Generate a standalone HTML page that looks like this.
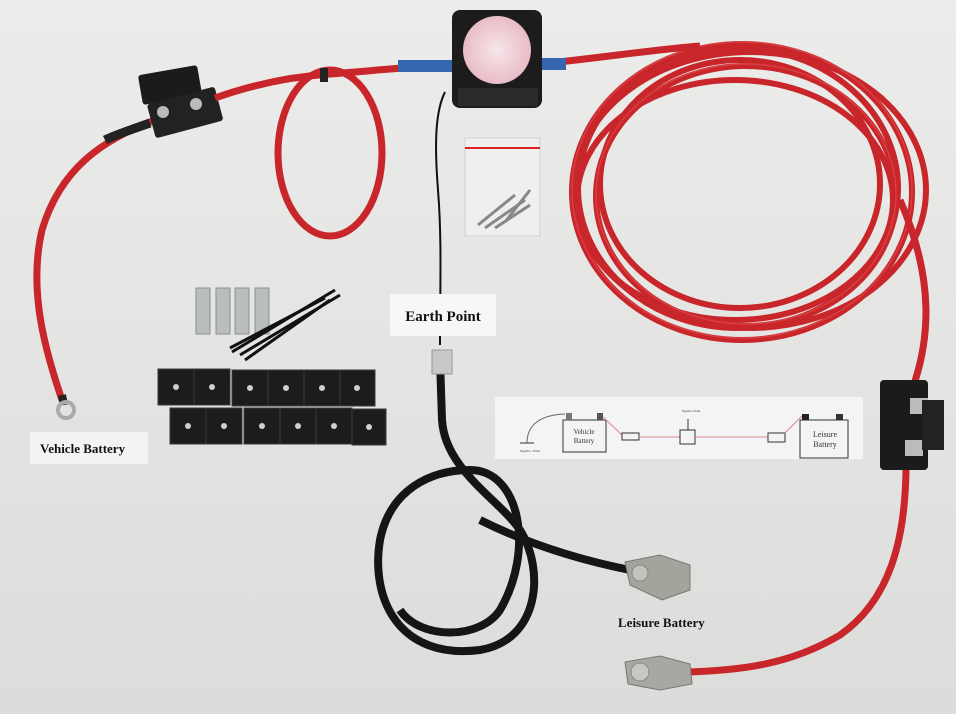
<!DOCTYPE html>
<html><head><meta charset="utf-8"><style>
html,body{margin:0;padding:0;width:956px;height:714px;overflow:hidden;background:#e6e6e4}
svg{display:block}
text{font-family:"Liberation Serif",serif}
</style></head><body>
<svg width="956" height="714" viewBox="0 0 956 714" xmlns="http://www.w3.org/2000/svg">
<defs>
<linearGradient id="bg" x1="0" y1="0" x2="0" y2="1">
<stop offset="0" stop-color="#ececea"/><stop offset="1" stop-color="#dcdcda"/>
</linearGradient>
<radialGradient id="pink" cx="0.5" cy="0.5" r="0.5">
<stop offset="0" stop-color="#f6e6ea"/><stop offset="1" stop-color="#e9bcc6"/>
</radialGradient>
</defs>
<rect width="956" height="714" fill="url(#bg)"/>

<g fill="none" stroke="#c8262a" stroke-width="6">
<ellipse cx="742" cy="192" rx="170" ry="148"/>
<ellipse cx="738" cy="188" rx="160" ry="140"/>
<ellipse cx="746" cy="196" rx="150" ry="130"/>
<ellipse cx="740" cy="184" rx="140" ry="124"/>
<ellipse cx="750" cy="190" rx="176" ry="138"/>
<ellipse cx="735" cy="200" rx="158" ry="120"/>
</g>
<g fill="none" stroke="#e0494c" stroke-width="1.5" opacity="0.7">
<ellipse cx="742" cy="190" rx="170" ry="148"/>
<ellipse cx="746" cy="194" rx="150" ry="130"/>
</g>

<path d="M540 64 C600 58 650 50 700 46" fill="none" stroke="#c8262a" stroke-width="7"/>
<rect x="540" y="58" width="26" height="12" fill="#3566b0"/>

<path d="M900 200 C935 280 930 340 912 390" fill="none" stroke="#c8262a" stroke-width="7"/>
<path d="M906 470 C905 540 890 600 840 635 C790 665 740 670 690 672" fill="none" stroke="#c8262a" stroke-width="7"/>
<rect x="880" y="380" width="48" height="90" rx="4" fill="#1b1b1b"/>
<rect x="910" y="398" width="18" height="16" fill="#bbb"/>
<rect x="905" y="440" width="18" height="16" fill="#bbb"/>
<rect x="922" y="400" width="22" height="50" fill="#222"/>

<path d="M625 662 L660 656 L690 664 L692 684 L660 690 L628 684 Z" fill="#a8a8a2" stroke="#777" stroke-width="1"/>
<circle cx="640" cy="672" r="9" fill="#c8c8c2" stroke="#888"/>

<path d="M160 118 C100 140 60 170 42 230 C28 290 45 350 62 400" fill="none" stroke="#c8262a" stroke-width="7"/>
<path d="M150 123 C130 130 115 135 105 140" fill="none" stroke="#222" stroke-width="9"/>
<path d="M62 395 L64 405" stroke="#222" stroke-width="8"/>
<circle cx="66" cy="410" r="8" fill="none" stroke="#aaa" stroke-width="4"/>
<g>
<rect x="140" y="70" width="60" height="30" rx="3" fill="#1b1b1b" transform="rotate(-10 170 85)"/>
<rect x="150" y="95" width="70" height="35" rx="3" fill="#222" transform="rotate(-15 185 112)"/>
<circle cx="163" cy="112" r="6" fill="#bbb"/>
<circle cx="196" cy="104" r="6" fill="#bbb"/>
</g>
<path d="M215 98 C260 82 300 76 330 74 C380 70 420 66 460 64" fill="none" stroke="#c8262a" stroke-width="7"/>
<ellipse cx="330" cy="153" rx="52" ry="83" fill="none" stroke="#c8262a" stroke-width="7"/>
<rect x="398" y="60" width="55" height="12" fill="#3566b0"/>
<rect x="320" y="68" width="8" height="14" fill="#222"/>

<rect x="452" y="10" width="90" height="98" rx="8" fill="#1c1c1c"/>
<circle cx="497" cy="50" r="34" fill="url(#pink)"/>
<rect x="458" y="88" width="80" height="18" fill="#2b2b2b"/>

<path d="M445 92 C436 110 434 140 438 190 C442 240 440 290 440 345" fill="none" stroke="#111" stroke-width="2"/>

<rect x="465" y="138" width="75" height="98" fill="#efefef" stroke="#cfcfcf"/>
<line x1="465" y1="148" x2="540" y2="148" stroke="#d22" stroke-width="2"/>
<g stroke="#888" stroke-width="3">
<line x1="478" y1="225" x2="515" y2="195"/><line x1="485" y1="228" x2="525" y2="200"/>
<line x1="495" y1="228" x2="530" y2="205"/><line x1="505" y1="222" x2="530" y2="190"/>
</g>

<path d="M440 360 L442 420 C445 470 500 500 520 530 C545 570 540 640 480 650 C400 660 370 600 380 540 C390 490 430 470 470 470 C520 470 535 550 500 610 C480 640 420 640 400 610" fill="none" stroke="#151515" stroke-width="8"/>
<path d="M480 520 C530 545 580 560 630 570" fill="none" stroke="#151515" stroke-width="8"/>
<path d="M625 562 L660 555 L690 565 L690 590 L662 600 L630 585 Z" fill="#a4a49c" stroke="#777"/>
<circle cx="640" cy="573" r="8" fill="#c4c4bc" stroke="#888"/>
<rect x="432" y="350" width="20" height="24" fill="#c8c8c8" stroke="#999"/>

<rect x="390" y="294" width="106" height="42" fill="#f7f7f7"/>
<text x="443" y="321" font-size="15" font-weight="bold" text-anchor="middle" fill="#111">Earth Point</text>

<g fill="#b9bdbd" stroke="#8d9191">
<rect x="196" y="288" width="14" height="46"/><rect x="216" y="288" width="14" height="46"/>
<rect x="235" y="288" width="14" height="46"/><rect x="255" y="288" width="14" height="46"/>
</g>
<g stroke="#111" stroke-width="3">
<line x1="232" y1="352" x2="335" y2="290"/><line x1="240" y1="355" x2="340" y2="295"/>
<line x1="245" y1="360" x2="330" y2="300"/><line x1="230" y1="348" x2="325" y2="298"/>
</g>
<g fill="#1c1c1c" stroke="#3a3a3a">
<rect x="158" y="369" width="36" height="36"/><rect x="194" y="369" width="36" height="36"/>
<rect x="232" y="370" width="36" height="36"/><rect x="268" y="370" width="36" height="36"/>
<rect x="304" y="370" width="36" height="36"/><rect x="340" y="370" width="35" height="36"/>
<rect x="170" y="408" width="36" height="36"/><rect x="206" y="408" width="36" height="36"/>
<rect x="244" y="408" width="36" height="36"/><rect x="280" y="408" width="36" height="36"/>
<rect x="316" y="408" width="36" height="36"/><rect x="352" y="409" width="34" height="36"/>
</g>
<g fill="#cfcfcf">
<circle cx="176" cy="387" r="3"/><circle cx="212" cy="387" r="3"/><circle cx="250" cy="388" r="3"/>
<circle cx="286" cy="388" r="3"/><circle cx="322" cy="388" r="3"/><circle cx="357" cy="388" r="3"/>
<circle cx="188" cy="426" r="3"/><circle cx="224" cy="426" r="3"/><circle cx="262" cy="426" r="3"/>
<circle cx="298" cy="426" r="3"/><circle cx="334" cy="426" r="3"/><circle cx="369" cy="427" r="3"/>
</g>

<rect x="495" y="397" width="368" height="62" fill="#f4f3f6"/>
<g font-family="Liberation Sans,sans-serif" fill="#333">
<path d="M527 443 C527 425 540 415 565 414" fill="none" stroke="#666"/>
<line x1="520" y1="443" x2="534" y2="443" stroke="#333"/>
<text x="520" y="452" font-size="3">Negative / Earth</text>
<rect x="563" y="420" width="43" height="32" fill="none" stroke="#333"/>
<rect x="566" y="413" width="6" height="7" fill="#777"/><rect x="597" y="413" width="6" height="7" fill="#555"/>
<text x="584" y="434" font-size="7" text-anchor="middle">Vehicle</text>
<text x="584" y="443" font-size="7" text-anchor="middle">Battery</text>
<path d="M603 417 L622 435" stroke="#d88" fill="none"/>
<rect x="622" y="433" width="17" height="7" fill="none" stroke="#333"/>
<line x1="639" y1="437" x2="680" y2="437" stroke="#d88"/>
<rect x="680" y="430" width="15" height="14" fill="none" stroke="#333"/>
<text x="682" y="412" font-size="3">Negative Earth</text>
<line x1="688" y1="419" x2="688" y2="430" stroke="#333"/>
<line x1="695" y1="437" x2="768" y2="437" stroke="#d88"/>
<rect x="768" y="433" width="17" height="9" fill="none" stroke="#333"/>
<path d="M785 433 L802 416" stroke="#d88" fill="none"/>
<rect x="800" y="420" width="48" height="38" fill="none" stroke="#333"/>
<rect x="802" y="414" width="7" height="6" fill="#222"/><rect x="836" y="414" width="7" height="6" fill="#333"/>
<text x="825" y="437" font-size="8" text-anchor="middle">Leisure</text>
<text x="825" y="447" font-size="8" text-anchor="middle">Battery</text>
</g>

<rect x="30" y="432" width="118" height="32" fill="#f3f3f3"/>
<text x="40" y="453" font-size="13" font-weight="bold" fill="#111">Vehicle Battery</text>
<text x="618" y="627" font-size="13" font-weight="bold" fill="#111">Leisure Battery</text>
</svg>
</body></html>
